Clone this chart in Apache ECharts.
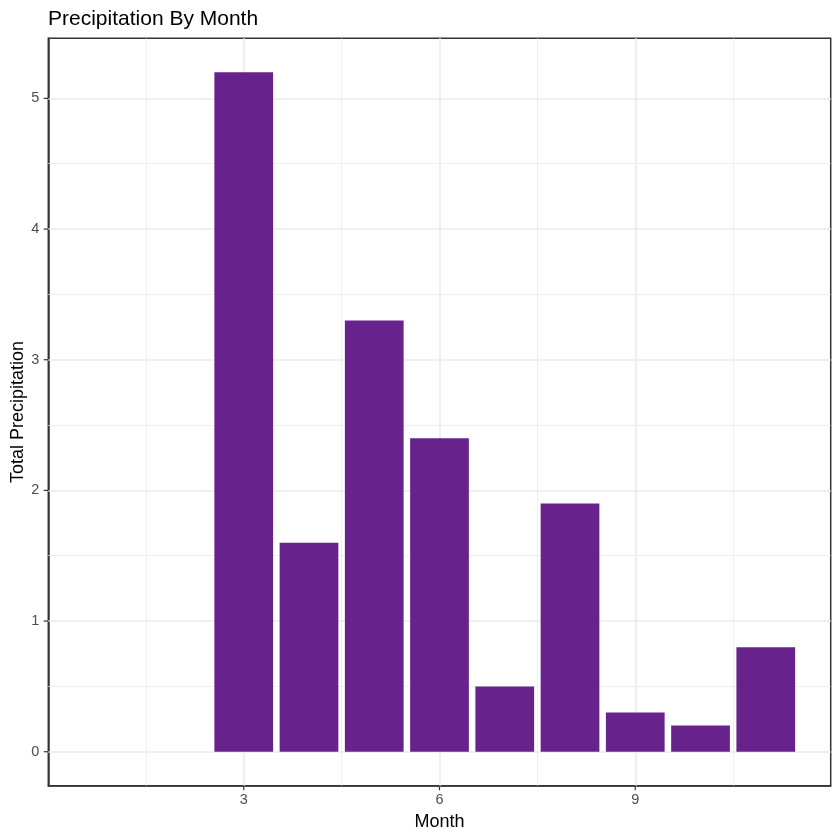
<!DOCTYPE html>
<html>
<head>
<meta charset="utf-8">
<script src="https://cdn.jsdelivr.net/npm/echarts@6/dist/echarts.min.js"></script>
<style>html,body{margin:0;padding:0;background:#fff}#c{width:840px;height:840px}</style>
</head>
<body>
<div id="c"></div>
<script>
const months = [3, 4, 5, 6, 7, 8, 9, 10, 11];
const precipitation = [5.2, 1.6, 3.3, 2.4, 0.5, 1.9, 0.3, 0.2, 0.8];
const xTicks = [3, 6, 9];
const xMinor = [1.5, 4.5, 7.5, 10.5];
const yTicks = [0, 1, 2, 3, 4, 5];
const yMinor = [0.5, 1.5, 2.5, 3.5, 4.5];

const FONT = '"Liberation Sans", Arial, sans-serif';
const TICK_LEN = 4.6;
const chart = echarts.init(document.getElementById('c'), null, {renderer: 'canvas'});

const gridLine = (vals, axisKey, w) => ({
  type: 'line', data: [], z: 1, silent: true,
  markLine: {
    silent: true, symbol: 'none', animation: false, z: 1,
    label: {show: false},
    lineStyle: {color: '#EBEBEB', width: w, type: 'solid'},
    emphasis: {disabled: true},
    data: vals.map(v => ({[axisKey]: v}))
  }
});

// axis tick marks drawn through the axis scales
const tickSeries = (vals, isX) => ({
  type: 'custom', z: 12, clip: false, silent: true,
  data: vals.map(v => isX ? [v, 0] : [6, v]),
  encode: {x: 0, y: 1},
  renderItem: function (params, api) {
    const cs = params.coordSys;
    const p = api.coord([api.value(0), api.value(1)]);
    const shape = isX
      ? {x1: p[0], y1: cs.y + cs.height, x2: p[0], y2: cs.y + cs.height + TICK_LEN}
      : {x1: cs.x, y1: p[1], x2: cs.x - TICK_LEN, y2: p[1]};
    return {type: 'line', shape: shape, style: {stroke: '#333333', lineWidth: 1.2}};
  }
});

chart.setOption({
  animation: false,
  backgroundColor: '#ffffff',
  title: {
    text: 'Precipitation By Month',
    left: 48, top: 9, padding: 0,
    textStyle: {fontFamily: FONT, fontSize: 21, fontWeight: 'normal', color: '#000'}
  },
  grid: {
    left: 48.3, right: 9.3, top: 38.3, bottom: 54.3,
    show: true, borderColor: '#333333', borderWidth: 1.5, backgroundColor: 'transparent',
    outerBoundsMode: 'none', containLabel: false
  },
  xAxis: {
    type: 'value', min: 0.005, max: 11.995,
    name: 'Month', nameLocation: 'middle', nameGap: 27, nameMoveOverlap: false,
    nameTextStyle: {fontFamily: FONT, fontSize: 18, color: '#000'},
    axisLine: {show: true, onZero: false, lineStyle: {color: '#333333', width: 1.5}},
    axisTick: {show: false},
    axisLabel: {show: true, customValues: xTicks, margin: 7, fontFamily: FONT, fontSize: 14.5, color: '#4D4D4D'},
    splitLine: {show: false}, minorSplitLine: {show: false}
  },
  yAxis: {
    type: 'value', min: -0.26, max: 5.46,
    name: 'Total Precipitation', nameLocation: 'middle', nameGap: 21, nameMoveOverlap: false,
    nameTextStyle: {fontFamily: FONT, fontSize: 18, color: '#000'},
    axisLine: {show: true, onZero: false, lineStyle: {color: '#333333', width: 1.5}},
    axisTick: {show: false},
    axisLabel: {show: true, customValues: yTicks, margin: 9, fontFamily: FONT, fontSize: 14.5, color: '#4D4D4D'},
    splitLine: {show: false}, minorSplitLine: {show: false}
  },
  series: [
    gridLine(xMinor, 'xAxis', 0.8),
    gridLine(yMinor, 'yAxis', 0.8),
    gridLine(xTicks, 'xAxis', 1.6),
    gridLine(yTicks, 'yAxis', 1.6),
    {
      type: 'custom', z: 10,
      data: months.map((m, i) => [m, precipitation[i]]),
      encode: {x: 0, y: 1},
      renderItem: function (params, api) {
        const x = api.value(0), y = api.value(1);
        const p0 = api.coord([x - 0.45, y]);
        const p1 = api.coord([x + 0.45, 0]);
        return {
          type: 'rect',
          shape: {x: p0[0], y: p0[1], width: p1[0] - p0[0], height: p1[1] - p0[1]},
          style: {fill: '#68228B'}
        };
      }
    },
    tickSeries(xTicks, true),
    tickSeries(yTicks, false)
  ]
});
</script>
</body>
</html>
